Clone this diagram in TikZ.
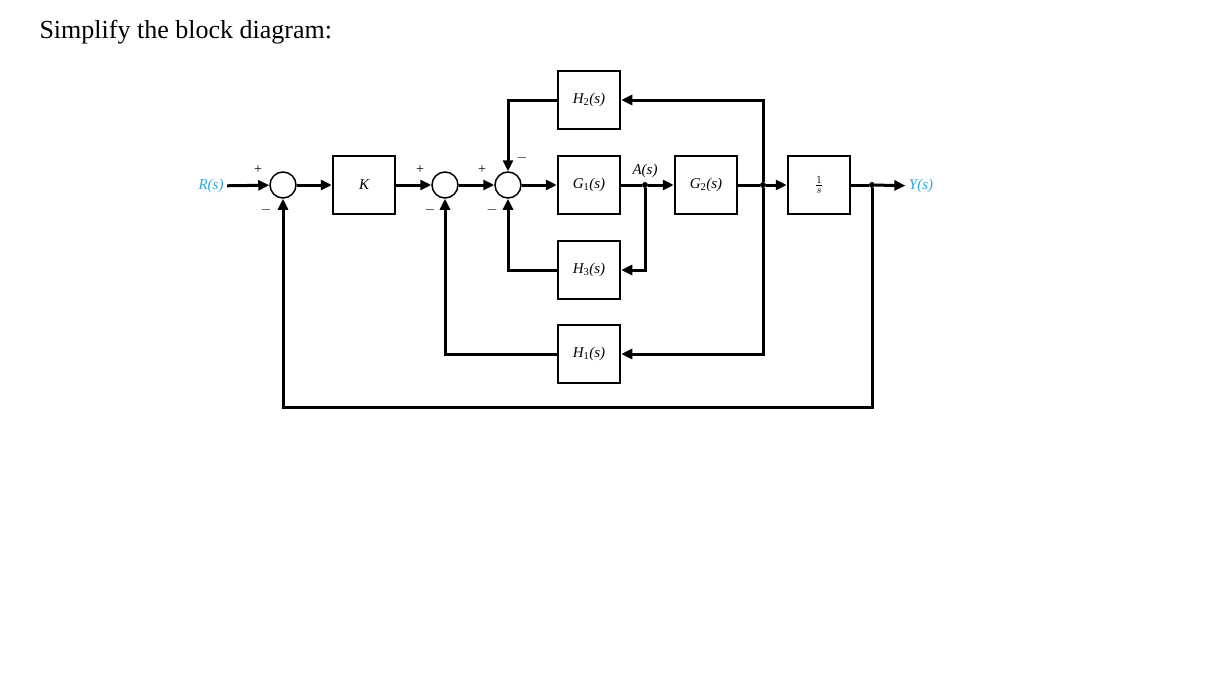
\documentclass[tikz,border=0pt]{standalone}
\usepackage{fontspec}
\setmainfont{Liberation Serif}
\usetikzlibrary{arrows.meta}
\definecolor{sig}{HTML}{29A8E0}
\begin{document}
\begin{tikzpicture}[x=1pt,y=-1pt,
  blk/.style={draw,line width=2.5pt,minimum width=62pt,minimum height=58pt,inner sep=0pt,font=\fontsize{15}{17}\selectfont\itshape},
  sumn/.style={draw,circle,line width=1.5pt,minimum size=26pt,inner sep=0pt},
  w/.style={line width=3pt},
  a/.style={w,-{Triangle[length=11pt,width=10pt]}},
  sg/.style={font=\fontsize{14}{14}\selectfont},
  dot/.style={circle,fill,inner sep=0pt,minimum size=6pt}]
\useasboundingbox (0,0) rectangle (1211,688);
\node[anchor=base west,font=\fontsize{26}{30}\selectfont] (title) at (36,38) {Simplify the block diagram:};
\node[text=sig,font=\fontsize{15}{17}\selectfont\itshape] (R) at (211,186) {R(s)};
\node[sumn] (s1) at (283,185) {};
\node[blk] (K) at (364,185) {K};
\node[sumn] (s2) at (445,185) {};
\node[sumn] (s3) at (508,185) {};
\node[blk] (G1) at (589,185) {G\textsubscript{\upshape 1}(s)};
\node[blk] (G2) at (706,185) {G\textsubscript{\upshape 2}(s)};
\node[blk] (I) at (819,185) {$\frac{1}{s}$};
\node[blk] (H2) at (589,100) {H\textsubscript{\upshape 2}(s)};
\node[blk] (H3) at (589,270) {H\textsubscript{\upshape 3}(s)};
\node[blk] (H1) at (589,354) {H\textsubscript{\upshape 1}(s)};
\node[dot] (dA) at (645,185) {};
\node[dot] (dB) at (763,185) {};
\node[dot] (dY) at (872,185) {};
\node[text=sig,font=\fontsize{15}{17}\selectfont\itshape] (Y) at (921,186) {Y(s)};
\node[font=\fontsize{15}{17}\selectfont\itshape] (Alab) at (645,171) {A(s)};
\draw[a] (R) -- (s1);
\draw[a] (s1) -- (K);
\draw[a] (K) -- (s2);
\draw[a] (s2) -- (s3);
\draw[a] (s3) -- (G1);
\draw[w] (G1) -- (dA);
\draw[a] (dA) -- (G2);
\draw[w] (G2) -- (dB);
\draw[a] (dB) -- (I);
\draw[w] (I) -- (dY);
\draw[a] (dY) -- (Y);
\draw[a] (dB) |- (H2);
\draw[a] (H2.west) -| (s3.north);
\draw[a] (dA) |- (H3);
\draw[a] (H3.west) -| (s3.south);
\draw[a] (dB) |- (H1);
\draw[a] (H1.west) -| (s2.south);
\coordinate (c1) at (872,407);
\draw[a] (dY) -- (c1) -| (s1.south);
\node[sg] (p1) at (258,170) {+};
\node[sg] (m1) at (266,210) {$-$};
\node[sg] (p2) at (420,170) {+};
\node[sg] (m2) at (430,210) {$-$};
\node[sg] (p3) at (482,170) {+};
\node[sg] (m3) at (522,158) {$-$};
\node[sg] (m4) at (492,210) {$-$};
\end{tikzpicture}
\end{document}
